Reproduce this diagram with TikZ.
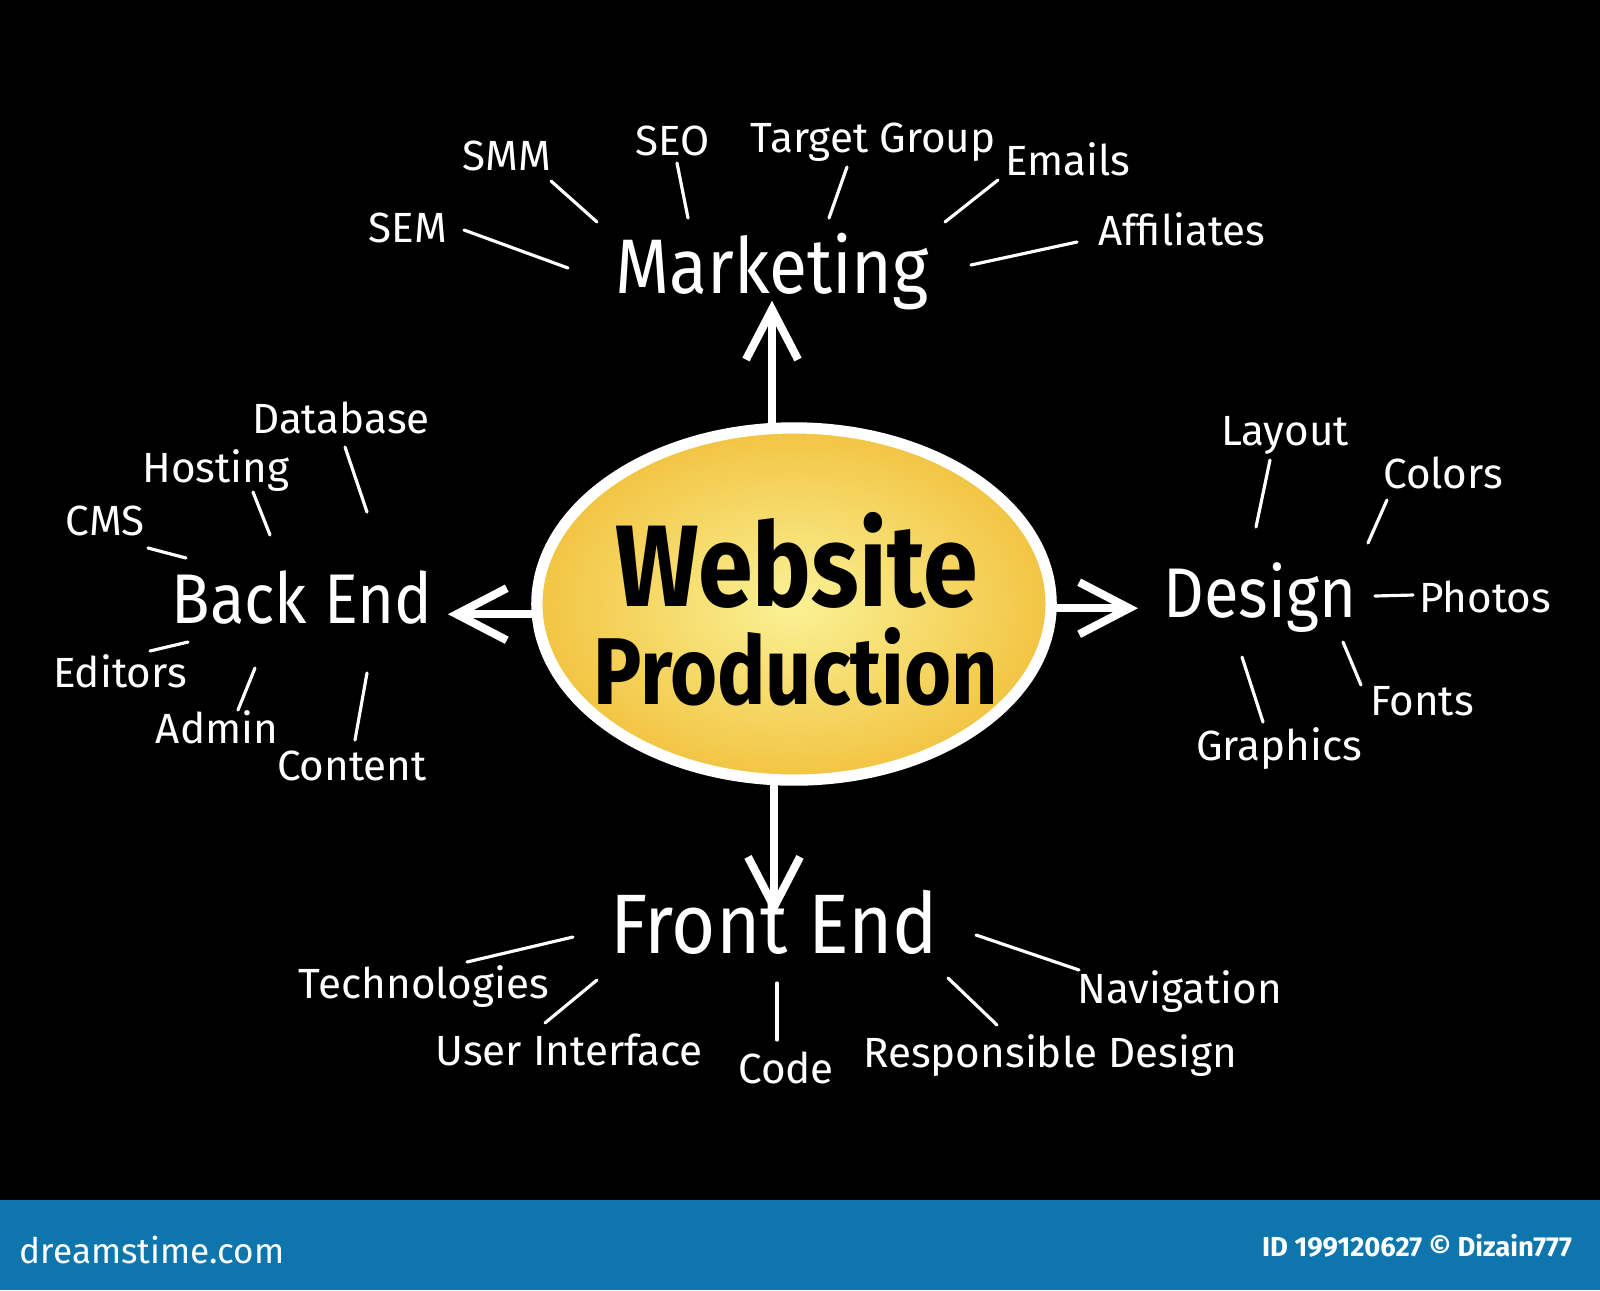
\documentclass[tikz,border=0pt]{standalone}
\usepackage{fontspec}
\setmainfont{Fira Sans}
\newfontfamily\headfont[FakeStretch=0.9]{Fira Sans}
\newfontfamily\hubfont[FakeStretch=0.85]{Fira Sans}
\usetikzlibrary{shapes.geometric,arrows.meta}
\definecolor{hubin}{RGB}{250,242,150}
\definecolor{hubout}{RGB}{242,196,66}
\definecolor{footblue}{RGB}{15,118,173}
\tikzset{head/.style={text=white,anchor=base,inner sep=0pt,text height=0.7em,text depth=0.2em,font=\headfont\fontsize{22}{22}\selectfont}}
\tikzset{leaf/.style={text=white,anchor=base,inner sep=0pt,font=\fontsize{12}{12}\selectfont}}
\tikzset{hubline/.style={anchor=base,inner sep=0pt,text=black}}
\tikzset{twig/.style={white,line width=0.9pt,line cap=round}}
\tikzset{branch/.style={white,line width=2.3pt,line cap=round,-{Straight Barb[length=5mm,width=5.2mm]}}}
\tikzset{hub/.style={ellipse,draw=white,line width=3.2pt,inner color=hubin,outer color=hubout,minimum width=5.14cm,minimum height=3.52cm}}

\begin{document}
\begin{tikzpicture}[x=0.01cm,y=-0.01cm]
    \useasboundingbox (0,0) rectangle (1600,1290);
    \fill[black] (0,0) rectangle (1600,1290);
    \fill[footblue] (0,1200) rectangle (1600,1290);
    \node[hub] (hub) at (794,604) {};
    \node[hubline,font=\hubfont\bfseries\fontsize{33}{33}\selectfont] (web) at (797,606) {Website};
    \node[hubline,font=\hubfont\bfseries\fontsize{27}{27}\selectfont] (prod) at (796,704) {Production};
    \node[head] (mkt) at (772,293) {Marketing};
    \node[head,font=\headfont\fontsize{20}{20}\selectfont] (be) at (302,623) {Back End};
    \node[head,font=\headfont\fontsize{20}{20}\selectfont] (dsg) at (1260,617) {Design};
    \node[head,font=\headfont\fontsize{24}{24}\selectfont] (fe) at (774,953) {Front End};
    \draw[branch] (mkt.south |- hub.north) -- (mkt.south);
    \draw[branch] (hub.west |- be.east) -- ([xshift=1.5mm]be.east);
    \draw[branch] (hub.east |- dsg.west) -- ([xshift=-2.5mm]dsg.west);
    \draw[branch] (fe.north |- hub.south) -- ([yshift=1.2mm]fe.north);
    % marketing
    \node[leaf] (smm) at (507,170) {SMM};
    \node[leaf] (seo) at (673,155) {SEO};
    \node[leaf] (tg) at (873,152) {Target Group};
    \node[leaf] (emails) at (1068,175) {Emails};
    \node[leaf] (aff) at (1182,245) {Affiliates};
    \node[leaf] (sem) at (408,242) {SEM};
    % back end
    \node[leaf] (db) at (341,433) {Database};
    \node[leaf] (host) at (216,482) {Hosting};
    \node[leaf] (cms) at (105,535) {CMS};
    \node[leaf] (edit) at (120,687) {Editors};
    \node[leaf] (admin) at (217,743) {Admin};
    \node[leaf] (cont) at (352,780) {Content};
    % design
    \node[leaf] (lay) at (1285,445) {Layout};
    \node[leaf] (col) at (1443,488) {Colors};
    \node[leaf] (pho) at (1485,612) {Photos};
    \node[leaf] (fnt) at (1422,715) {Fonts};
    \node[leaf] (gra) at (1279,760) {Graphics};
    % front end
    \node[leaf] (tech) at (424,998) {Technologies};
    \node[leaf] (ui) at (569,1065) {User Interface};
    \node[leaf] (code) at (786,1083) {Code};
    \node[leaf] (resp) at (1050,1067) {Responsible Design};
    \node[leaf] (nav) at (1180,1003) {Navigation};
    \foreach \n/\dx/\dy/\vx/\vy in {smm/44/11/46/41, seo/4/8/11/55, tg/-26/15/-18/51,
        emails/-70/5/-53/42, aff/-105/-3/-106/23, sem/56/-12/104/38,
        db/4/14/22/65, host/37/10/17/43, cms/43/13/38/10, edit/30/-36/38/-9,
        admin/38/-75/-17/42, cont/15/-107/-12/67,
        lay/-15/15/-14/67, col/-56/12/-19/43, pho/-110/-16/38/-1,
        fnt/-79/-73/18/43, gra/-37/-103/21/65,
        tech/43/-36/106/-25, ui/-24/-42/52/-43, code/-9/-100/0/57,
        resp/-102/-89/49/47, nav/-204/-68/103/35}
      \draw[twig] (\n.base) ++(\dx,\dy) -- ++(\vx,\vy);
    % footer
    \node[text=white,font=\fontsize{10}{10}\selectfont] (site) at (152,1250) {dreamstime.com};
    \node[text=white,font=\bfseries\fontsize{7.8}{8}\selectfont] (imgid) at (1417,1246) {ID 199120627 © Dizain777};
\end{tikzpicture}
\end{document}
